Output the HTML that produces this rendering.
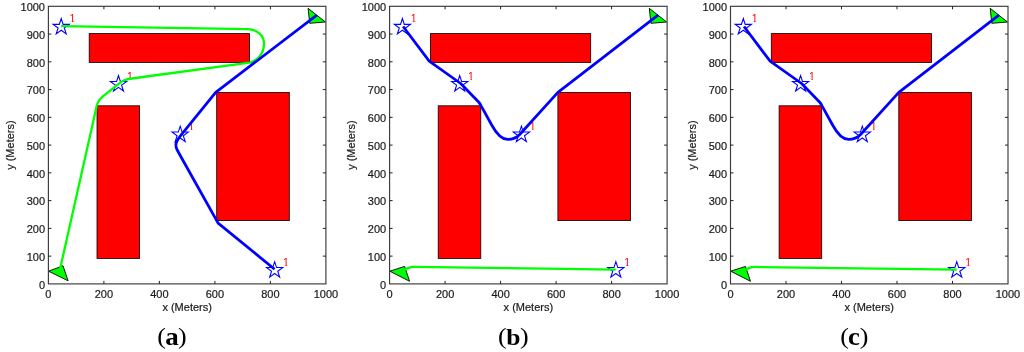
<!DOCTYPE html>
<html><head><meta charset="utf-8"><title>Figure</title>
<style>
html,body{margin:0;padding:0;background:#fff;}
body{width:1024px;height:352px;overflow:hidden;}
svg{display:block;font-family:"Liberation Sans",sans-serif;}
</style></head><body>
<svg width="1024" height="352" viewBox="0 0 1024 352">
<defs><clipPath id="c1"><rect x="-4" y="-9.5" width="8" height="8.5"/><rect x="-0.5" y="-9.5" width="1.35" height="10"/></clipPath></defs>
<rect width="1024" height="352" fill="#fff"/>
<g transform="translate(0.00,0)">
<rect x="89.20" y="33.60" width="160.30" height="28.80" fill="#ff0000" stroke="#000" stroke-width="0.8"/>
<rect x="97.00" y="105.80" width="42.60" height="152.60" fill="#ff0000" stroke="#000" stroke-width="0.8"/>
<rect x="216.70" y="92.40" width="72.60" height="128.20" fill="#ff0000" stroke="#000" stroke-width="0.8"/>
<polygon points="48.5,271.2 63,265.8 68.1,280.8" fill="#00ff00" stroke="#000" stroke-width="0.9"/>
<polygon points="308.1,8.3 325.4,22 309.7,23.3" fill="#00ff00" stroke="#000" stroke-width="0.9"/>
<polygon points="61.20,18.50 63.11,24.37 69.28,24.37 64.29,28.00 66.20,33.88 61.20,30.25 56.20,33.88 58.11,28.00 53.12,24.37 59.29,24.37" fill="none" stroke="#0000ff" stroke-width="1.1"/>
<g transform="translate(72.50,22.20)"><text x="0" y="0" font-size="10.5" fill="#ff0000" text-anchor="middle" clip-path="url(#c1)">1</text></g>
<polygon points="118.50,75.60 120.41,81.47 126.58,81.47 121.59,85.10 123.50,90.98 118.50,87.35 113.50,90.98 115.41,85.10 110.42,81.47 116.59,81.47" fill="none" stroke="#0000ff" stroke-width="1.1"/>
<g transform="translate(129.80,79.50)"><text x="0" y="0" font-size="10.5" fill="#ff0000" text-anchor="middle" clip-path="url(#c1)">1</text></g>
<polygon points="180.20,126.20 182.11,132.07 188.28,132.07 183.29,135.70 185.20,141.58 180.20,137.95 175.20,141.58 177.11,135.70 172.12,132.07 178.29,132.07" fill="none" stroke="#0000ff" stroke-width="1.1"/>
<g transform="translate(191.50,129.90)"><text x="0" y="0" font-size="10.5" fill="#ff0000" text-anchor="middle" clip-path="url(#c1)">1</text></g>
<polygon points="274.65,261.70 276.56,267.57 282.73,267.57 277.74,271.20 279.65,277.08 274.65,273.45 269.65,277.08 271.56,271.20 266.57,267.57 272.74,267.57" fill="none" stroke="#0000ff" stroke-width="1.1"/>
<g transform="translate(285.95,266.20)"><text x="0" y="0" font-size="10.5" fill="#ff0000" text-anchor="middle" clip-path="url(#c1)">1</text></g>
<path d="M61.2,26.1 L248,29.1 C257,29.5 264,35 264,44 C264,53 258,60.8 249.5,62.6 L150,76 L128.5,79 Q124.5,79.7 121.25,81.9 L103.5,95.8 Q98.5,99.8 96.9,105 L95.25,112.5 L60.3,268" fill="none" stroke="#00ff00" stroke-width="2.3" stroke-linejoin="round"/>
<path d="M316.8,15.1 L215.7,92.4 L180.6,135.6 C176.8,140.3 174.2,144.5 177.2,150 L180.5,156 L218.1,223.1 L274.6,269.2" fill="none" stroke="#0000ff" stroke-width="2.75" stroke-linejoin="round"/>
<rect x="48.40" y="6.30" width="277.50" height="277.60" fill="none" stroke="#3a3a3a" stroke-width="1.15"/>
<text x="45.00" y="288.70" font-size="11.0" fill="#1a1a1a" stroke="#1a1a1a" stroke-width="0.2" text-anchor="end">0</text>
<text x="45.00" y="260.94" font-size="11.0" fill="#1a1a1a" stroke="#1a1a1a" stroke-width="0.2" text-anchor="end">100</text>
<text x="45.00" y="233.18" font-size="11.0" fill="#1a1a1a" stroke="#1a1a1a" stroke-width="0.2" text-anchor="end">200</text>
<text x="45.00" y="205.42" font-size="11.0" fill="#1a1a1a" stroke="#1a1a1a" stroke-width="0.2" text-anchor="end">300</text>
<text x="45.00" y="177.66" font-size="11.0" fill="#1a1a1a" stroke="#1a1a1a" stroke-width="0.2" text-anchor="end">400</text>
<text x="45.00" y="149.90" font-size="11.0" fill="#1a1a1a" stroke="#1a1a1a" stroke-width="0.2" text-anchor="end">500</text>
<text x="45.00" y="122.14" font-size="11.0" fill="#1a1a1a" stroke="#1a1a1a" stroke-width="0.2" text-anchor="end">600</text>
<text x="45.00" y="94.38" font-size="11.0" fill="#1a1a1a" stroke="#1a1a1a" stroke-width="0.2" text-anchor="end">700</text>
<text x="45.00" y="66.62" font-size="11.0" fill="#1a1a1a" stroke="#1a1a1a" stroke-width="0.2" text-anchor="end">800</text>
<text x="45.00" y="38.86" font-size="11.0" fill="#1a1a1a" stroke="#1a1a1a" stroke-width="0.2" text-anchor="end">900</text>
<text x="45.00" y="11.10" font-size="11.0" fill="#1a1a1a" stroke="#1a1a1a" stroke-width="0.2" text-anchor="end">1000</text>
<text x="48.40" y="297.70" font-size="11.0" fill="#1a1a1a" stroke="#1a1a1a" stroke-width="0.2" text-anchor="middle">0</text>
<text x="103.90" y="297.70" font-size="11.0" fill="#1a1a1a" stroke="#1a1a1a" stroke-width="0.2" text-anchor="middle">200</text>
<text x="159.40" y="297.70" font-size="11.0" fill="#1a1a1a" stroke="#1a1a1a" stroke-width="0.2" text-anchor="middle">400</text>
<text x="214.90" y="297.70" font-size="11.0" fill="#1a1a1a" stroke="#1a1a1a" stroke-width="0.2" text-anchor="middle">600</text>
<text x="270.40" y="297.70" font-size="11.0" fill="#1a1a1a" stroke="#1a1a1a" stroke-width="0.2" text-anchor="middle">800</text>
<text x="325.90" y="297.70" font-size="11.0" fill="#1a1a1a" stroke="#1a1a1a" stroke-width="0.2" text-anchor="middle">1000</text>
<path d="M48.40,256.14 h3.0 M325.90,256.14 h-3.0 M48.40,228.38 h3.0 M325.90,228.38 h-3.0 M48.40,200.62 h3.0 M325.90,200.62 h-3.0 M48.40,172.86 h3.0 M325.90,172.86 h-3.0 M48.40,145.10 h3.0 M325.90,145.10 h-3.0 M48.40,117.34 h3.0 M325.90,117.34 h-3.0 M48.40,89.58 h3.0 M325.90,89.58 h-3.0 M48.40,61.82 h3.0 M325.90,61.82 h-3.0 M48.40,34.06 h3.0 M325.90,34.06 h-3.0 M103.90,283.90 v-3.0 M103.90,6.30 v3.0 M159.40,283.90 v-3.0 M159.40,6.30 v3.0 M214.90,283.90 v-3.0 M214.90,6.30 v3.0 M270.40,283.90 v-3.0 M270.40,6.30 v3.0" stroke="#222" stroke-width="1" fill="none"/>
<text x="187.15" y="310.60" font-size="11.0" fill="#1a1a1a" stroke="#1a1a1a" stroke-width="0.2" text-anchor="middle">x (Meters)</text>
<text transform="translate(13.50,145.10) rotate(-90)" font-size="11.0" fill="#1a1a1a" stroke="#1a1a1a" stroke-width="0.2" text-anchor="middle">y (Meters)</text>
<g transform="translate(171.85,0) scale(1.1,1)"><text y="344.2" font-family="'Liberation Serif',serif" font-size="23.6" fill="#000" text-anchor="middle"><tspan x="-9.40">(</tspan><tspan x="0.10" y="344.7" font-weight="bold" font-size="24.5">a</tspan><tspan x="9.50" y="344.2">)</tspan></text></g>
</g>
<g transform="translate(341.20,0)">
<rect x="89.20" y="33.60" width="160.30" height="28.80" fill="#ff0000" stroke="#000" stroke-width="0.8"/>
<rect x="97.00" y="105.80" width="42.60" height="152.60" fill="#ff0000" stroke="#000" stroke-width="0.8"/>
<rect x="216.70" y="92.40" width="72.60" height="128.20" fill="#ff0000" stroke="#000" stroke-width="0.8"/>
<polygon points="48.6,271.2 63.4,266.4 68.4,281.3" fill="#00ff00" stroke="#000" stroke-width="0.9"/>
<polygon points="308.1,8.3 325.4,22 309.7,23.3" fill="#00ff00" stroke="#000" stroke-width="0.9"/>
<polygon points="61.20,18.50 63.11,24.37 69.28,24.37 64.29,28.00 66.20,33.88 61.20,30.25 56.20,33.88 58.11,28.00 53.12,24.37 59.29,24.37" fill="none" stroke="#0000ff" stroke-width="1.1"/>
<g transform="translate(72.50,22.20)"><text x="0" y="0" font-size="10.5" fill="#ff0000" text-anchor="middle" clip-path="url(#c1)">1</text></g>
<polygon points="118.50,75.60 120.41,81.47 126.58,81.47 121.59,85.10 123.50,90.98 118.50,87.35 113.50,90.98 115.41,85.10 110.42,81.47 116.59,81.47" fill="none" stroke="#0000ff" stroke-width="1.1"/>
<g transform="translate(129.80,79.50)"><text x="0" y="0" font-size="10.5" fill="#ff0000" text-anchor="middle" clip-path="url(#c1)">1</text></g>
<polygon points="180.20,126.20 182.11,132.07 188.28,132.07 183.29,135.70 185.20,141.58 180.20,137.95 175.20,141.58 177.11,135.70 172.12,132.07 178.29,132.07" fill="none" stroke="#0000ff" stroke-width="1.1"/>
<g transform="translate(191.50,129.90)"><text x="0" y="0" font-size="10.5" fill="#ff0000" text-anchor="middle" clip-path="url(#c1)">1</text></g>
<polygon points="274.65,261.70 276.56,267.57 282.73,267.57 277.74,271.20 279.65,277.08 274.65,273.45 269.65,277.08 271.56,271.20 266.57,267.57 272.74,267.57" fill="none" stroke="#0000ff" stroke-width="1.1"/>
<g transform="translate(285.95,266.20)"><text x="0" y="0" font-size="10.5" fill="#ff0000" text-anchor="middle" clip-path="url(#c1)">1</text></g>
<path d="M274.6,269.6 L72,266.95 C68,266.95 66,268.2 60,272" fill="none" stroke="#00ff00" stroke-width="2.3" stroke-linejoin="round"/>
<path d="M61.9,26.5 L88,61.2 L119.5,83.5 L137.4,102 Q138.8,103.5 139.8,105.6 L150.5,125 C154,131.5 159,139.4 166.5,139.4 C171.5,139.4 175.5,137.6 178.5,134.5 L216.7,92.4 L316.8,15.1" fill="none" stroke="#0000ff" stroke-width="2.75" stroke-linejoin="round"/>
<rect x="48.40" y="6.30" width="277.50" height="277.60" fill="none" stroke="#3a3a3a" stroke-width="1.15"/>
<text x="45.00" y="288.70" font-size="11.0" fill="#1a1a1a" stroke="#1a1a1a" stroke-width="0.2" text-anchor="end">0</text>
<text x="45.00" y="260.94" font-size="11.0" fill="#1a1a1a" stroke="#1a1a1a" stroke-width="0.2" text-anchor="end">100</text>
<text x="45.00" y="233.18" font-size="11.0" fill="#1a1a1a" stroke="#1a1a1a" stroke-width="0.2" text-anchor="end">200</text>
<text x="45.00" y="205.42" font-size="11.0" fill="#1a1a1a" stroke="#1a1a1a" stroke-width="0.2" text-anchor="end">300</text>
<text x="45.00" y="177.66" font-size="11.0" fill="#1a1a1a" stroke="#1a1a1a" stroke-width="0.2" text-anchor="end">400</text>
<text x="45.00" y="149.90" font-size="11.0" fill="#1a1a1a" stroke="#1a1a1a" stroke-width="0.2" text-anchor="end">500</text>
<text x="45.00" y="122.14" font-size="11.0" fill="#1a1a1a" stroke="#1a1a1a" stroke-width="0.2" text-anchor="end">600</text>
<text x="45.00" y="94.38" font-size="11.0" fill="#1a1a1a" stroke="#1a1a1a" stroke-width="0.2" text-anchor="end">700</text>
<text x="45.00" y="66.62" font-size="11.0" fill="#1a1a1a" stroke="#1a1a1a" stroke-width="0.2" text-anchor="end">800</text>
<text x="45.00" y="38.86" font-size="11.0" fill="#1a1a1a" stroke="#1a1a1a" stroke-width="0.2" text-anchor="end">900</text>
<text x="45.00" y="11.10" font-size="11.0" fill="#1a1a1a" stroke="#1a1a1a" stroke-width="0.2" text-anchor="end">1000</text>
<text x="48.40" y="297.70" font-size="11.0" fill="#1a1a1a" stroke="#1a1a1a" stroke-width="0.2" text-anchor="middle">0</text>
<text x="103.90" y="297.70" font-size="11.0" fill="#1a1a1a" stroke="#1a1a1a" stroke-width="0.2" text-anchor="middle">200</text>
<text x="159.40" y="297.70" font-size="11.0" fill="#1a1a1a" stroke="#1a1a1a" stroke-width="0.2" text-anchor="middle">400</text>
<text x="214.90" y="297.70" font-size="11.0" fill="#1a1a1a" stroke="#1a1a1a" stroke-width="0.2" text-anchor="middle">600</text>
<text x="270.40" y="297.70" font-size="11.0" fill="#1a1a1a" stroke="#1a1a1a" stroke-width="0.2" text-anchor="middle">800</text>
<text x="325.90" y="297.70" font-size="11.0" fill="#1a1a1a" stroke="#1a1a1a" stroke-width="0.2" text-anchor="middle">1000</text>
<path d="M48.40,256.14 h3.0 M325.90,256.14 h-3.0 M48.40,228.38 h3.0 M325.90,228.38 h-3.0 M48.40,200.62 h3.0 M325.90,200.62 h-3.0 M48.40,172.86 h3.0 M325.90,172.86 h-3.0 M48.40,145.10 h3.0 M325.90,145.10 h-3.0 M48.40,117.34 h3.0 M325.90,117.34 h-3.0 M48.40,89.58 h3.0 M325.90,89.58 h-3.0 M48.40,61.82 h3.0 M325.90,61.82 h-3.0 M48.40,34.06 h3.0 M325.90,34.06 h-3.0 M103.90,283.90 v-3.0 M103.90,6.30 v3.0 M159.40,283.90 v-3.0 M159.40,6.30 v3.0 M214.90,283.90 v-3.0 M214.90,6.30 v3.0 M270.40,283.90 v-3.0 M270.40,6.30 v3.0" stroke="#222" stroke-width="1" fill="none"/>
<text x="187.15" y="310.60" font-size="11.0" fill="#1a1a1a" stroke="#1a1a1a" stroke-width="0.2" text-anchor="middle">x (Meters)</text>
<text transform="translate(13.50,145.10) rotate(-90)" font-size="11.0" fill="#1a1a1a" stroke="#1a1a1a" stroke-width="0.2" text-anchor="middle">y (Meters)</text>
<g transform="translate(171.85,0) scale(1.1,1)"><text y="344.2" font-family="'Liberation Serif',serif" font-size="23.6" fill="#000" text-anchor="middle"><tspan x="-9.80">(</tspan><tspan x="0.20" y="344.7" font-weight="bold" font-size="23.2">b</tspan><tspan x="10.30" y="344.2">)</tspan></text></g>
</g>
<g transform="translate(682.10,0)">
<rect x="89.20" y="33.60" width="160.30" height="28.80" fill="#ff0000" stroke="#000" stroke-width="0.8"/>
<rect x="97.00" y="105.80" width="42.60" height="152.60" fill="#ff0000" stroke="#000" stroke-width="0.8"/>
<rect x="216.70" y="92.40" width="72.60" height="128.20" fill="#ff0000" stroke="#000" stroke-width="0.8"/>
<polygon points="48.6,271.2 63.4,266.4 68.4,281.3" fill="#00ff00" stroke="#000" stroke-width="0.9"/>
<polygon points="308.1,8.3 325.4,22 309.7,23.3" fill="#00ff00" stroke="#000" stroke-width="0.9"/>
<polygon points="61.20,18.50 63.11,24.37 69.28,24.37 64.29,28.00 66.20,33.88 61.20,30.25 56.20,33.88 58.11,28.00 53.12,24.37 59.29,24.37" fill="none" stroke="#0000ff" stroke-width="1.1"/>
<g transform="translate(72.50,22.20)"><text x="0" y="0" font-size="10.5" fill="#ff0000" text-anchor="middle" clip-path="url(#c1)">1</text></g>
<polygon points="118.50,75.60 120.41,81.47 126.58,81.47 121.59,85.10 123.50,90.98 118.50,87.35 113.50,90.98 115.41,85.10 110.42,81.47 116.59,81.47" fill="none" stroke="#0000ff" stroke-width="1.1"/>
<g transform="translate(129.80,79.50)"><text x="0" y="0" font-size="10.5" fill="#ff0000" text-anchor="middle" clip-path="url(#c1)">1</text></g>
<polygon points="180.20,126.20 182.11,132.07 188.28,132.07 183.29,135.70 185.20,141.58 180.20,137.95 175.20,141.58 177.11,135.70 172.12,132.07 178.29,132.07" fill="none" stroke="#0000ff" stroke-width="1.1"/>
<g transform="translate(191.50,129.90)"><text x="0" y="0" font-size="10.5" fill="#ff0000" text-anchor="middle" clip-path="url(#c1)">1</text></g>
<polygon points="274.65,261.70 276.56,267.57 282.73,267.57 277.74,271.20 279.65,277.08 274.65,273.45 269.65,277.08 271.56,271.20 266.57,267.57 272.74,267.57" fill="none" stroke="#0000ff" stroke-width="1.1"/>
<g transform="translate(285.95,266.20)"><text x="0" y="0" font-size="10.5" fill="#ff0000" text-anchor="middle" clip-path="url(#c1)">1</text></g>
<path d="M274.6,269.6 L72,266.95 C68,266.95 66,268.2 60,272" fill="none" stroke="#00ff00" stroke-width="2.3" stroke-linejoin="round"/>
<path d="M61.9,26.5 L88,61.2 L119.5,83.5 L137.4,102 Q138.8,103.5 139.8,105.6 L150.5,125 C154,131.5 159,139.4 166.5,139.4 C171.5,139.4 175.5,137.6 178.5,134.5 L216.7,92.4 L316.8,15.1" fill="none" stroke="#0000ff" stroke-width="2.75" stroke-linejoin="round"/>
<rect x="48.40" y="6.30" width="277.50" height="277.60" fill="none" stroke="#3a3a3a" stroke-width="1.15"/>
<text x="45.00" y="288.70" font-size="11.0" fill="#1a1a1a" stroke="#1a1a1a" stroke-width="0.2" text-anchor="end">0</text>
<text x="45.00" y="260.94" font-size="11.0" fill="#1a1a1a" stroke="#1a1a1a" stroke-width="0.2" text-anchor="end">100</text>
<text x="45.00" y="233.18" font-size="11.0" fill="#1a1a1a" stroke="#1a1a1a" stroke-width="0.2" text-anchor="end">200</text>
<text x="45.00" y="205.42" font-size="11.0" fill="#1a1a1a" stroke="#1a1a1a" stroke-width="0.2" text-anchor="end">300</text>
<text x="45.00" y="177.66" font-size="11.0" fill="#1a1a1a" stroke="#1a1a1a" stroke-width="0.2" text-anchor="end">400</text>
<text x="45.00" y="149.90" font-size="11.0" fill="#1a1a1a" stroke="#1a1a1a" stroke-width="0.2" text-anchor="end">500</text>
<text x="45.00" y="122.14" font-size="11.0" fill="#1a1a1a" stroke="#1a1a1a" stroke-width="0.2" text-anchor="end">600</text>
<text x="45.00" y="94.38" font-size="11.0" fill="#1a1a1a" stroke="#1a1a1a" stroke-width="0.2" text-anchor="end">700</text>
<text x="45.00" y="66.62" font-size="11.0" fill="#1a1a1a" stroke="#1a1a1a" stroke-width="0.2" text-anchor="end">800</text>
<text x="45.00" y="38.86" font-size="11.0" fill="#1a1a1a" stroke="#1a1a1a" stroke-width="0.2" text-anchor="end">900</text>
<text x="45.00" y="11.10" font-size="11.0" fill="#1a1a1a" stroke="#1a1a1a" stroke-width="0.2" text-anchor="end">1000</text>
<text x="48.40" y="297.70" font-size="11.0" fill="#1a1a1a" stroke="#1a1a1a" stroke-width="0.2" text-anchor="middle">0</text>
<text x="103.90" y="297.70" font-size="11.0" fill="#1a1a1a" stroke="#1a1a1a" stroke-width="0.2" text-anchor="middle">200</text>
<text x="159.40" y="297.70" font-size="11.0" fill="#1a1a1a" stroke="#1a1a1a" stroke-width="0.2" text-anchor="middle">400</text>
<text x="214.90" y="297.70" font-size="11.0" fill="#1a1a1a" stroke="#1a1a1a" stroke-width="0.2" text-anchor="middle">600</text>
<text x="270.40" y="297.70" font-size="11.0" fill="#1a1a1a" stroke="#1a1a1a" stroke-width="0.2" text-anchor="middle">800</text>
<text x="325.90" y="297.70" font-size="11.0" fill="#1a1a1a" stroke="#1a1a1a" stroke-width="0.2" text-anchor="middle">1000</text>
<path d="M48.40,256.14 h3.0 M325.90,256.14 h-3.0 M48.40,228.38 h3.0 M325.90,228.38 h-3.0 M48.40,200.62 h3.0 M325.90,200.62 h-3.0 M48.40,172.86 h3.0 M325.90,172.86 h-3.0 M48.40,145.10 h3.0 M325.90,145.10 h-3.0 M48.40,117.34 h3.0 M325.90,117.34 h-3.0 M48.40,89.58 h3.0 M325.90,89.58 h-3.0 M48.40,61.82 h3.0 M325.90,61.82 h-3.0 M48.40,34.06 h3.0 M325.90,34.06 h-3.0 M103.90,283.90 v-3.0 M103.90,6.30 v3.0 M159.40,283.90 v-3.0 M159.40,6.30 v3.0 M214.90,283.90 v-3.0 M214.90,6.30 v3.0 M270.40,283.90 v-3.0 M270.40,6.30 v3.0" stroke="#222" stroke-width="1" fill="none"/>
<text x="187.15" y="310.60" font-size="11.0" fill="#1a1a1a" stroke="#1a1a1a" stroke-width="0.2" text-anchor="middle">x (Meters)</text>
<text transform="translate(13.50,145.10) rotate(-90)" font-size="11.0" fill="#1a1a1a" stroke="#1a1a1a" stroke-width="0.2" text-anchor="middle">y (Meters)</text>
<g transform="translate(171.85,0) scale(1.1,1)"><text y="344.2" font-family="'Liberation Serif',serif" font-size="23.6" fill="#000" text-anchor="middle"><tspan x="-8.50">(</tspan><tspan x="-0.10" y="344.7" font-weight="bold" font-size="24.3">c</tspan><tspan x="9.20" y="344.2">)</tspan></text></g>
</g>
</svg>
</body></html>
